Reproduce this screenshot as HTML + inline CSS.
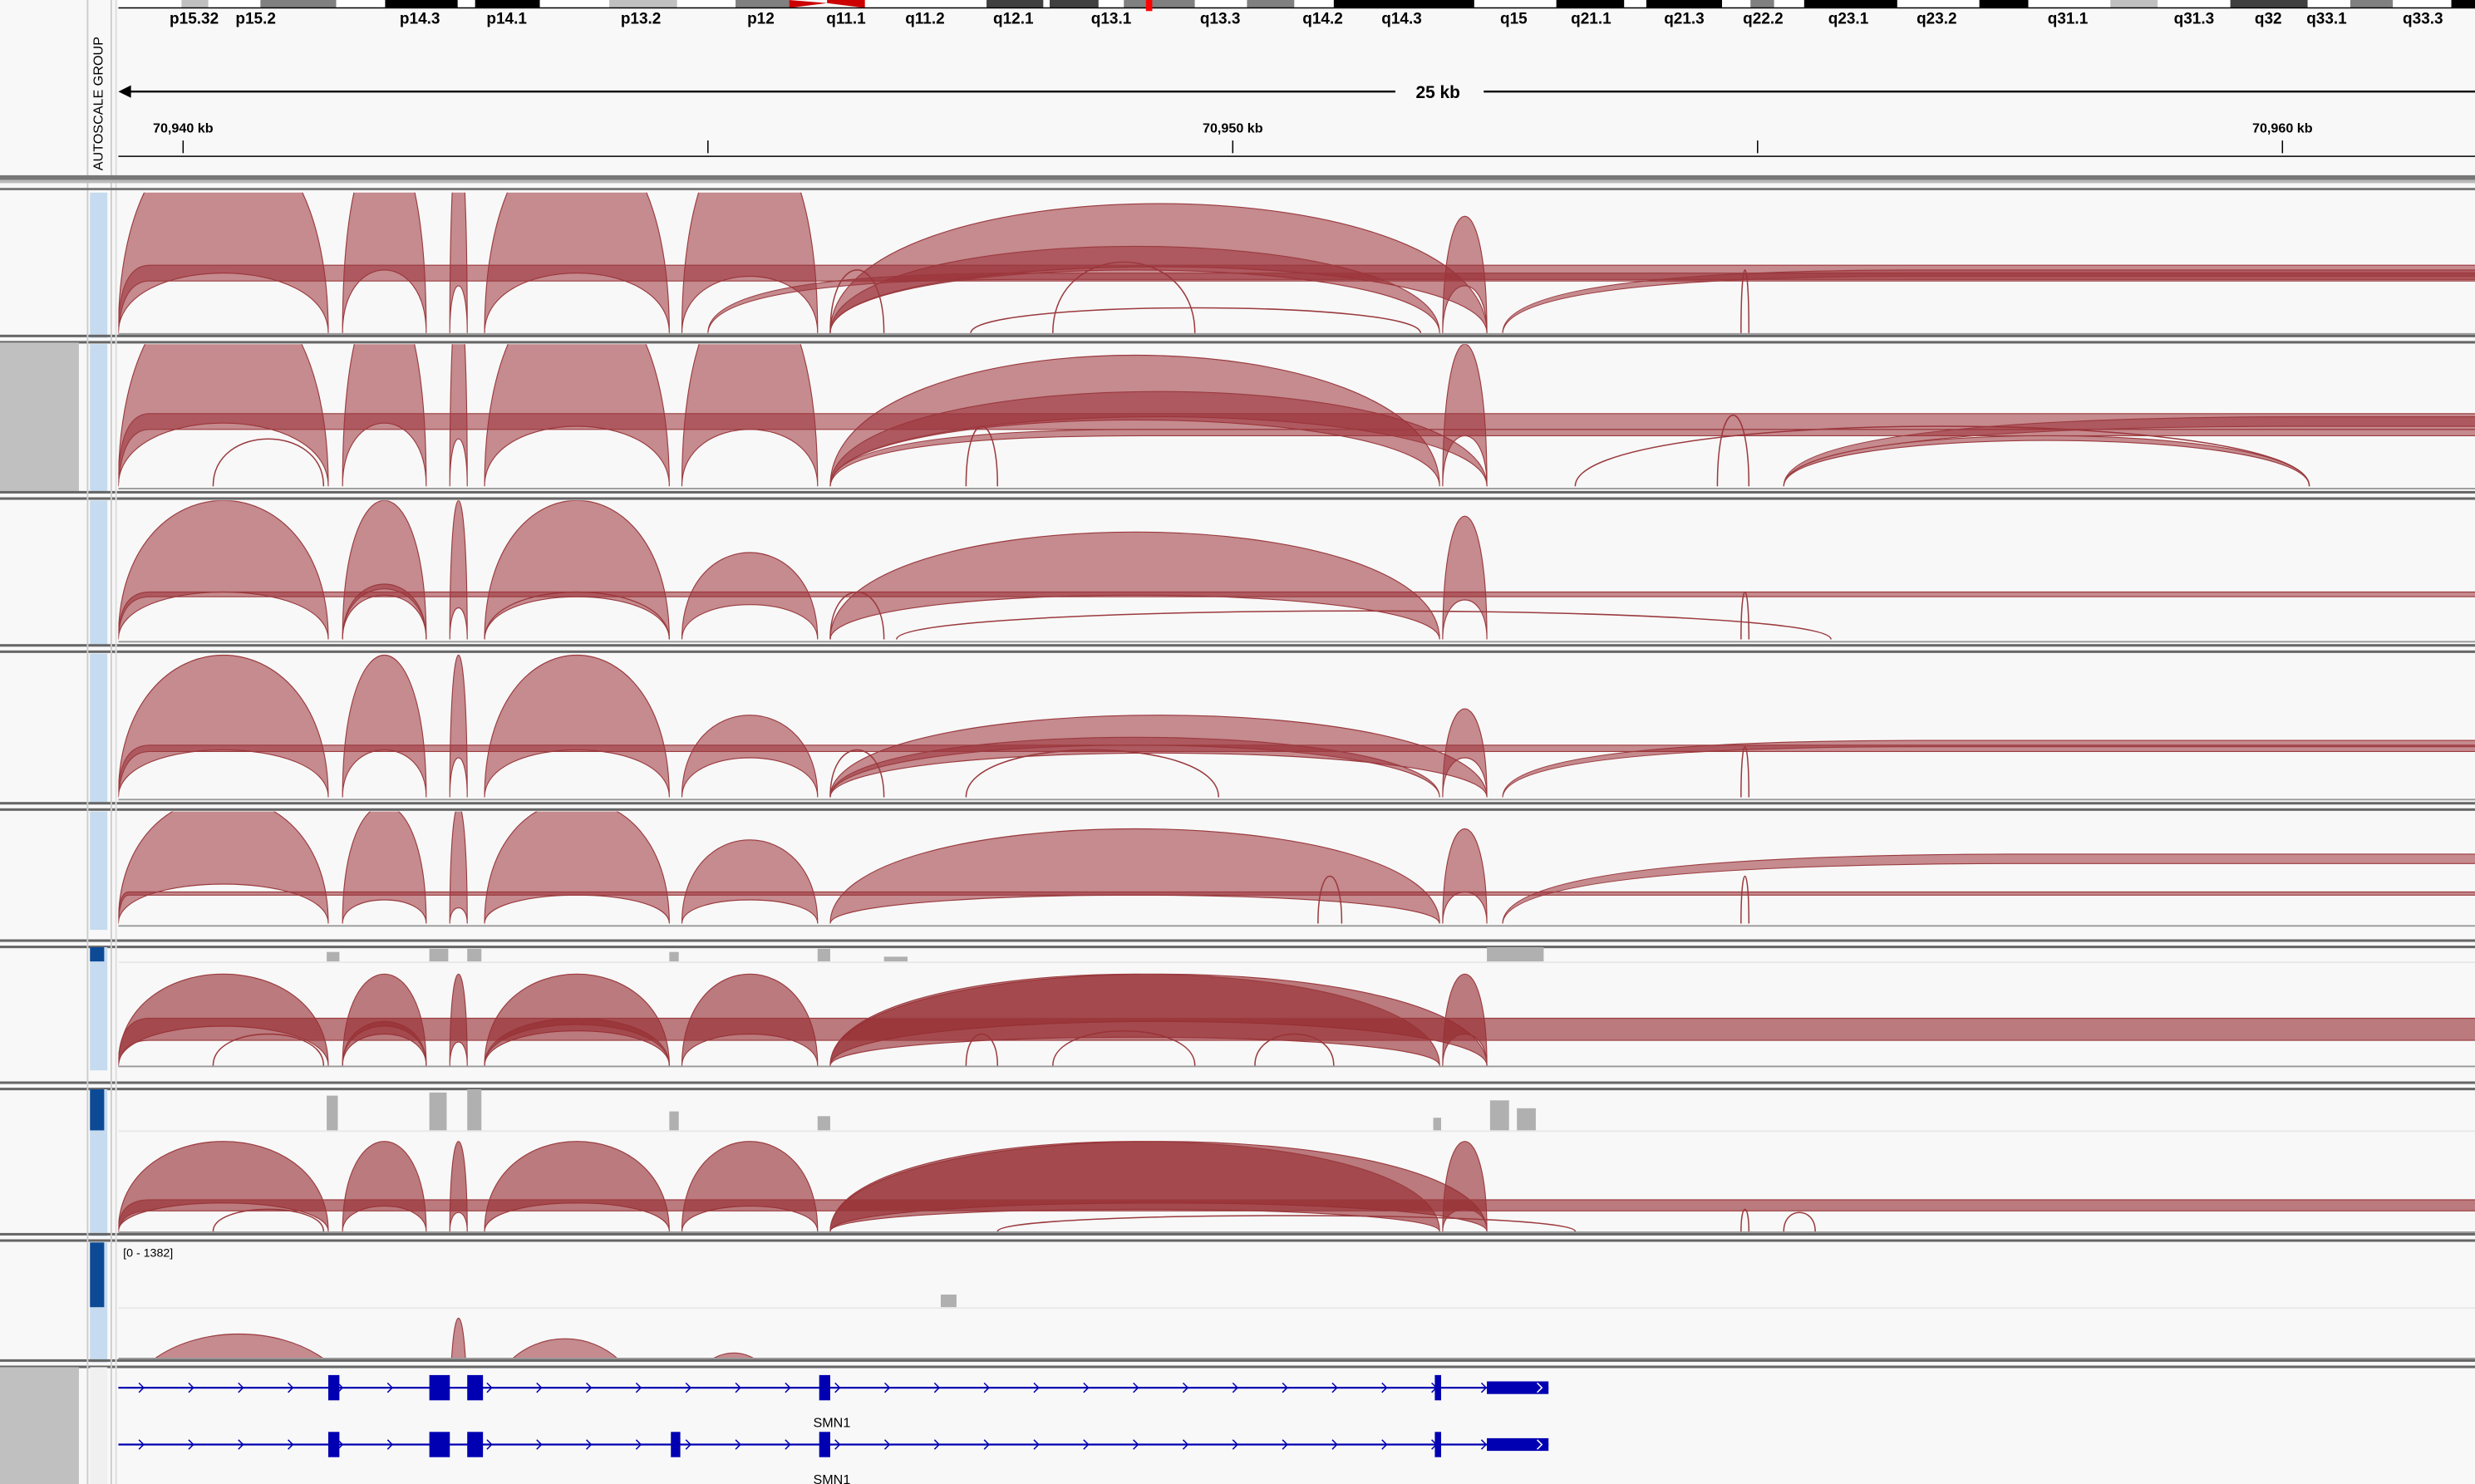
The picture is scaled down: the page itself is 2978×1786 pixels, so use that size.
<!DOCTYPE html>
<html><head><meta charset="utf-8"><style>
html,body{margin:0;padding:0;background:#f8f8f8;}
svg{display:block;font-family:"Liberation Sans",sans-serif;}
</style></head><body>
<svg id="v" width="2978" height="1786" viewBox="0 0 1568 940" preserveAspectRatio="none" xmlns="http://www.w3.org/2000/svg">
<rect x="0" y="0" width="1568" height="940" fill="#f8f8f8"/>
<g id="ideo"></g>
<g id="ruler"></g>
<g id="tracks"></g>
<g id="gene"></g>
</svg>
<script>
// ---- data ----
const bandStarts=[75,115,132,165,213,244,290,301,342,386,429,466,500,548,625,661,665,696,712,757,790,820,845,934,986,1029,1043,1091,1109,1124,1143,1202,1254,1285,1337,1367,1413,1462,1489,1516,1553];
const bandShades=["#fff","#c0c0c0","#fff","#808080","#fff","#000","#fff","#000","#fff","#c0c0c0","#fff","#808080","cen","#fff","#404040","#fff","#404040","#fff","#808080","#fff","#808080","#fff","#000","#fff","#000","#fff","#000","#fff","#808080","#fff","#000","#fff","#000","#fff","#c0c0c0","#fff","#404040","#fff","#808080","#fff","#000"];
const bandNames=["p15.32","p15.2","p14.3","p14.1","p13.2","p12","q11.1","q11.2","q12.1","q13.1","q13.3","q14.2","q14.3","q15","q21.1","q21.3","q22.2","q23.1","q23.2","q31.1","q31.3","q32","q33.1","q33.3"];
const bandLabelX=[123,162,266,321,406,482,536,586,642,704,773,838,888,959,1008,1067,1117,1171,1227,1310,1390,1437,1474,1535];
const rulerTicksKb=[0,5,10,15,20];
const rulerLabels=["70,940 kb","","70,950 kb","","70,960 kb"];
// junctions: [startKb, endKb, outerDepth, innerDepth] (kb relative to 70,940 kb)
const t1Junctions=[[-0.617,1.383,130,38],[1.519,2.316,125,40],[2.541,2.707,125,30],[2.872,4.632,130,38],[4.752,6.045,130,36],[6.165,12.421,82,42],[6.165,11.970,55,40],[12.000,12.421,74,30],[6.165,6.677,40,39],[8.286,9.639,45,44],[7.504,11.789,16,15],[14.842,14.917,40,39]];
const t2Junctions=[[-0.617,1.383,130,40],[1.519,2.316,125,40],[2.541,2.707,125,30],[2.872,4.632,130,38],[4.752,6.045,130,36],[6.165,11.970,83,42],[6.165,12.421,60,44],[12.000,12.421,90,32],[0.286,1.338,30,29],[7.459,7.759,38,37],[13.263,20.256,38,37],[14.617,14.917,45,44],[15.249,20.256,32,29]];
const t3Junctions=[[-0.617,1.383,88,30],[1.519,2.316,88,28],[2.541,2.707,88,20],[2.872,4.632,88,30],[4.752,6.045,55,22],[6.165,11.970,68,28],[12.000,12.421,78,25],[6.165,6.677,30,29],[6.797,15.699,18,17],[1.519,2.316,35,32],[2.872,4.632,30,27],[14.842,14.917,30,29]];
const t4Junctions=[[-0.617,1.383,90,30],[1.519,2.316,90,30],[2.541,2.707,90,25],[2.872,4.632,90,30],[4.752,6.045,52,25],[6.165,12.421,52,28],[6.165,11.970,38,33],[12.000,12.421,56,25],[6.165,6.677,30,29],[7.459,9.865,30,29],[14.842,14.917,32,31]];
const t5Junctions=[[-0.617,1.383,80,25],[1.519,2.316,75,15],[2.541,2.707,75,10],[2.872,4.632,78,18],[4.752,6.045,53,15],[6.165,11.970,60,18],[12.000,12.421,60,20],[10.812,11.038,30,29],[14.842,14.917,30,29]];
const t6Junctions=[[-0.617,1.383,58,25],[1.519,2.316,58,20],[2.541,2.707,58,15],[2.872,4.632,58,22],[4.752,6.045,58,20],[6.165,12.421,58,28],[6.165,11.970,58,18],[12.000,12.421,58,20],[7.459,7.759,20,19],[8.286,9.639,22,21],[10.211,10.962,20,19],[0.286,1.338,20,19],[1.519,2.316,28,25],[2.872,4.632,30,26]];
const t7Junctions=[[-0.617,1.383,57,18],[1.519,2.316,57,16],[2.541,2.707,57,12],[2.872,4.632,57,18],[4.752,6.045,57,16],[6.165,12.421,57,18],[6.165,11.970,57,14],[12.000,12.421,57,14],[0.286,1.338,14,13],[7.759,13.263,10,9],[14.842,14.917,14,13],[15.249,15.549,12,11]];
const t8Junctions=[[-0.617,1.684,60,40],[2.541,2.707,70,40],[2.872,4.406,57,40],[4.752,5.737,48,40]];
// long junctions running off the right edge: [startKb, outerDepth, innerDepth, riseKb]
const t1Long=[[-0.617,43,33,0.3],[5.0,38,34,3],[12.571,40,36,4]];
const t2Long=[[-0.617,46,36,0.3],[6.165,36,32,3],[15.249,44,38,5]];
const t3Long=[[-0.617,30,27,0.3]];
const t4Long=[[-0.617,33,29,0.3],[12.571,36,32,4]];
const t5Long=[[-0.617,20,18,0.1],[12.571,44,38,5]];
const t6Long=[[-0.617,30,16,0.3]];
const t7Long=[[-0.617,20,13,0.3]];
const t8Long=[];
// coverage: [startKb, endKb, depth]
const t6Cov=[[1.368,1.489,6],[2.346,2.526,8],[2.707,2.842,8],[4.632,4.722,6],[6.045,6.165,8],[6.677,6.902,3],[12.421,12.962,9]];
const t7Cov=[[1.368,1.474,22],[2.346,2.511,24],[2.707,2.842,26],[4.632,4.722,12],[6.045,6.165,9],[11.910,11.985,8],[12.451,12.632,19],[12.707,12.887,14]];
const t8Cov=[[7.218,7.368,8]];
// gene exons [startKb, endKb]
const exonsA=[[1.383,1.489],[2.346,2.541],[2.707,2.857],[6.060,6.165],[11.925,11.985],[12.421,13.008]];
const exonsB=[[1.383,1.489],[2.346,2.541],[2.707,2.857],[4.647,4.737],[6.060,6.165],[11.925,11.985],[12.421,13.008]];
// ---- layout ----
const NS="http://www.w3.org/2000/svg";
const X=kb=>116+kb*66.5;
function mk(tag,attrs,parent){const e=document.createElementNS(NS,tag);for(const k in attrs)e.setAttribute(k,attrs[k]);parent.appendChild(e);return e;}
const svg=document.getElementById('v');
// ideogram
const ideo=document.getElementById('ideo');
bandStarts.forEach((s,i)=>{
  const e=i<bandStarts.length-1?bandStarts[i+1]:1568;
  let r;
  if(bandShades[i]==="cen"){r=mk('path',{d:`M${s} 0 L${s+24} 0 L${s+24} 2 Z M${e} 0 L${e-24} 0 L${e-24} 2 Z M${s} 0 L${s} 5 L${s+24} 2 L${e} 5 L${e} 0`,fill:"#c00"},ideo);}
  else r=mk('rect',{x:s,y:0,width:e-s,height:5,fill:bandShades[i]},ideo);
  
  
});
mk('line',{x1:75,y1:5,x2:1568,y2:5,stroke:"#000","stroke-width":0.8},ideo);
mk('rect',{x:726,y:0,width:4,height:7,fill:"#f00"},ideo);
bandNames.forEach((n,i)=>{
  const t=mk('text',{x:bandLabelX[i],y:15,"font-size":10,"font-weight":"bold","text-anchor":"middle",fill:"#000"},ideo);
  t.textContent=n;
  
  
});
// ruler
const ruler=document.getElementById('ruler');
mk('line',{x1:80,y1:58,x2:884,y2:58,stroke:"#000","stroke-width":1.2},ruler);
mk('line',{x1:940,y1:58,x2:1568,y2:58,stroke:"#000","stroke-width":1.2},ruler);
mk('path',{d:"M75 58 L83 54 L83 62 Z",fill:"#000"},ruler);
const sc=mk('text',{x:911,y:62,"font-size":11,"font-weight":"bold","text-anchor":"middle"},ruler);sc.textContent="25 kb";


rulerTicksKb.forEach((kb,i)=>{
  mk('line',{x1:X(kb),y1:89,x2:X(kb),y2:97,stroke:"#000","stroke-width":0.8},ruler);
  if(rulerLabels[i]){const t=mk('text',{x:X(kb),y:84,"font-size":8.5,"font-weight":"bold","text-anchor":"middle"},ruler);t.textContent=rulerLabels[i];
  
  }
});
mk('line',{x1:75,y1:99,x2:1568,y2:99,stroke:"#000","stroke-width":0.8},ruler);
// left panels
mk('line',{x1:55.5,y1:0,x2:55.5,y2:940,stroke:"#ccc","stroke-width":1},svg);
mk('line',{x1:70.5,y1:0,x2:70.5,y2:940,stroke:"#ccc","stroke-width":1},svg);
mk('line',{x1:73.5,y1:0,x2:73.5,y2:940,stroke:"#ddd","stroke-width":1},svg);
const ag=mk('text',{x:0,y:0,"font-size":8.5,transform:"translate(65,108) rotate(-90)",fill:"#000"},svg);ag.textContent="AUTOSCALE GROUP";


// separators
[[111,3,"#777"],[114,2,"#bbb"],[119,1.5,"#777"]].forEach(s=>mk('rect',{x:0,y:s[0],width:1568,height:s[1],fill:s[2]},svg));
// tracks
const tracks=[
 {top:122,base:211,bot:212,j:t1Junctions,L:t1Long,sep:[212,216]},
 {top:218,base:308,bot:310,j:t2Junctions,L:t2Long,sep:[311,315],gray:true},
 {top:317,base:405,bot:407,j:t3Junctions,L:t3Long,sep:[408,412]},
 {top:414,base:505,bot:507,j:t4Junctions,L:t4Long,sep:[508,512]},
 {top:514,base:585,bot:587,j:t5Junctions,L:t5Long,sep:[595,599]},
 {top:610,base:675,bot:676,j:t6Junctions,L:t6Long,sep:[685,689],cov:t6Cov,covTop:600,covBase:609,dark:true},
 {top:718,base:780,bot:781,j:t7Junctions,L:t7Long,sep:[781,785],cov:t7Cov,covTop:690,covBase:716,dark:true},
 {top:828,base:905,bot:861,j:t8Junctions,L:t8Long,sep:[861,865],cov:t8Cov,covTop:787,covBase:828,label:true}
];
const defs=mk('defs',{},svg);
const tg=document.getElementById('tracks');
tracks.forEach((t,ti)=>{
  const g=mk('g',{},tg);
  
  
  const cp=mk('clipPath',{id:'c'+ti},defs);
  mk('rect',{x:75,y:t.top,width:1493,height:t.bot-t.top},cp);
  const a=mk('rect',{x:57,y:t.covTop||t.top,width:11,height:t.bot-(t.covTop||t.top)+2,fill:"#c6dbef"},g);
  if(t.covTop){const d=mk('rect',{x:57,y:t.covTop,width:9,height:t.covBase-t.covTop,fill:"#0d4a96"},g);}
  if(t.gray) mk('rect',{x:0,y:t.top-1,width:50,height:t.bot-t.top+2,fill:"#c0c0c0"},g);
  if(t.cov){
    t.cov.forEach(c=>{const r=mk('rect',{x:X(c[0]),y:t.covBase-c[2],width:X(c[1])-X(c[0]),height:c[2],fill:"#b0b0b0"},g);
      
      });
    mk('line',{x1:75,y1:t.covBase+0.5,x2:1568,y2:t.covBase+0.5,stroke:"#e8e8e8"},g);
  }
  if(t.label){const l=mk('text',{x:78,y:796,"font-size":7.5},g);l.textContent="[0 - 1382]";
    
    }
  const ag2=mk('g',{"clip-path":`url(#c${ti})`},g);
  const b=t.base;
  const fill=t.dark?"rgba(150,45,50,0.62)":"rgba(155,50,56,0.55)";
  t.j.forEach(jn=>{
    const x1=X(jn[0]),x2=X(jn[1]),H=jn[2]/0.75,h=jn[3]/0.75;
    let p;
    if(jn[2]-jn[3]<=1.5){
      p=mk('path',{d:`M${x1} ${b} C${x1} ${b-H} ${x2} ${b-H} ${x2} ${b}`,fill:"none",stroke:"#9b3a3e","stroke-width":0.8},ag2);
    } else {
      p=mk('path',{d:`M${x1} ${b} C${x1} ${b-H} ${x2} ${b-H} ${x2} ${b} C${x2} ${b-h} ${x1} ${b-h} ${x1} ${b} Z`,fill:fill,stroke:"#9b3a3e","stroke-width":0.6},ag2);
    }
    
    
  });
  t.L.forEach(l=>{
    const x1=X(l[0]),r=l[3]*66.5,yo=b-l[1],yi=b-l[2];
    const p=mk('path',{d:`M${x1} ${b} Q${x1} ${yo} ${x1+r} ${yo} L1570 ${yo} L1570 ${yi} L${x1+r} ${yi} Q${x1+ (l[1]-l[2]>3?2:1)} ${yi} ${x1} ${b} Z`,fill:fill,stroke:"#9b3a3e","stroke-width":0.6},ag2);
    
    
  });
  mk('line',{x1:75,y1:t.bot-0.5,x2:1568,y2:t.bot-0.5,stroke:"#999","stroke-width":1},g);
  mk('rect',{x:0,y:t.sep[0],width:1568,height:1.6,fill:"#666"},g);
  mk('rect',{x:0,y:t.sep[1],width:1568,height:1.6,fill:"#666"},g);
});
// gene track
const gene=document.getElementById('gene');
mk('rect',{x:0,y:866,width:50,height:74,fill:"#c0c0c0"},gene);
mk('rect',{x:57,y:866,width:11,height:74,fill:"#f0f0f0"},gene);
[[879,exonsA,901],[915,exonsB,937]].forEach((tr,ti)=>{
  const y=tr[0];
  const gl=mk('g',{},gene);
  
  
  mk('line',{x1:75,y1:y,x2:X(13.008),y2:y,stroke:"#0000b2","stroke-width":1.2},gl);
  for(let ax=88;ax<945;ax+=31.5){mk('path',{d:`M${ax} ${y-3} L${ax+3} ${y} L${ax} ${y+3}`,fill:"none",stroke:"#0000b2","stroke-width":0.8},gl);}
  tr[1].forEach((e,i)=>{
    const last=i===tr[1].length-1;
    const hh=last?8:16;
    const r=mk('rect',{x:X(e[0]),y:y-hh/2,width:Math.max(2,X(e[1])-X(e[0])),height:hh,fill:"#0000b2"},gl);
    
    
  });
  mk('path',{d:`M${X(12.9)} ${y-3} L${X(12.9)+3} ${y} L${X(12.9)} ${y+3}`,fill:"none",stroke:"#fff","stroke-width":0.8},gl);
  const t=mk('text',{x:527,y:tr[2]+3,"font-size":8.5,"text-anchor":"middle"},gl);t.textContent="SMN1";
  
  
});
</script>
</body></html>
